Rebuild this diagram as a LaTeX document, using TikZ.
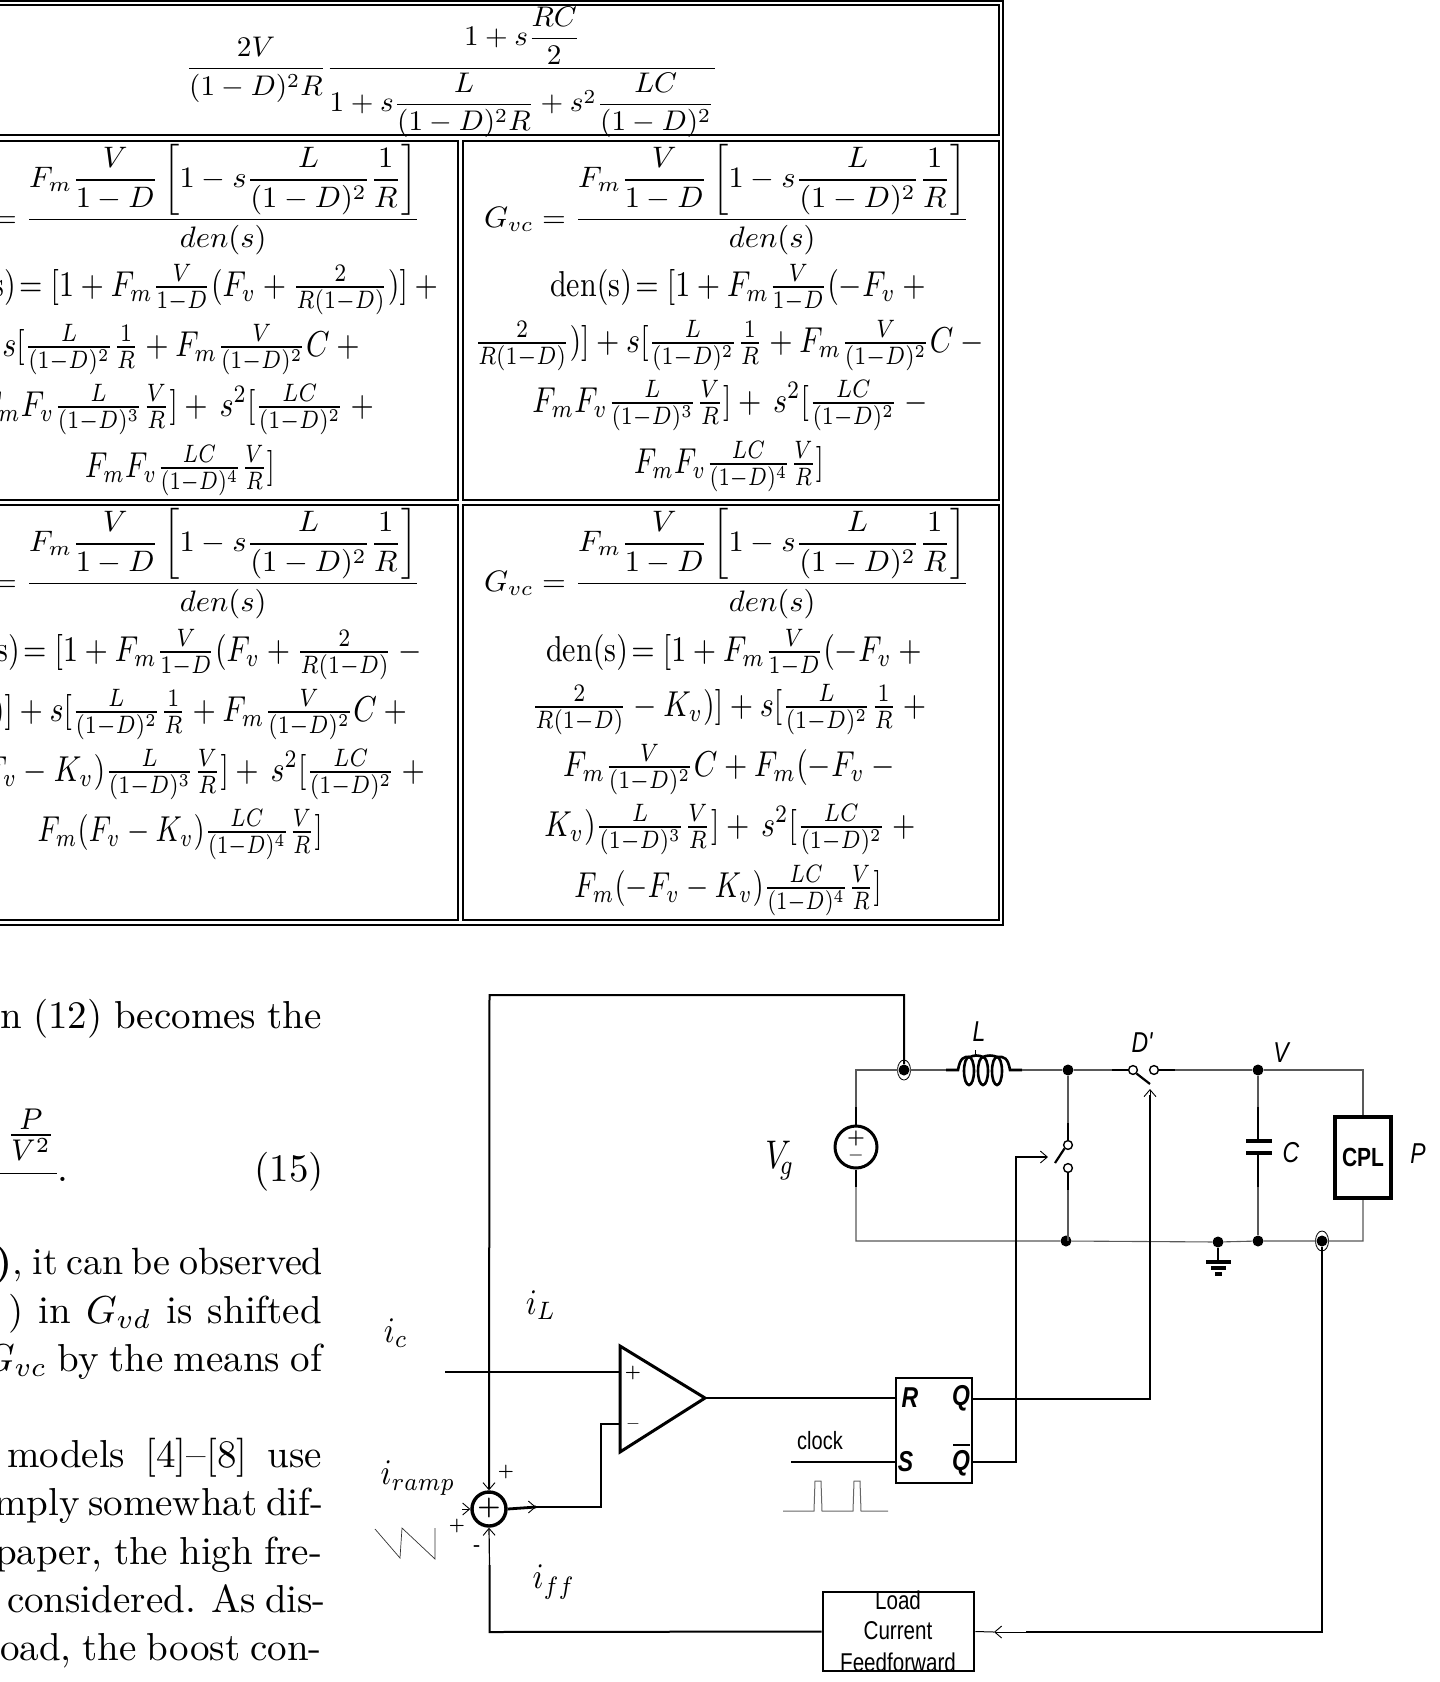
\documentclass[tikz,border=0pt]{standalone}
\usepackage{amsmath}
\usepackage{fontspec}
\usetikzlibrary{arrows.meta,shapes.geometric}
\newfontfamily\arial{Liberation Sans}
\newcommand\jl[2]{\makebox[#1\dimexpr 0.2564pt\relax][s]{#2}}
\newcommand\Dq{(1-D)}
\newcommand\Nm{F_m\dfrac{V}{1-D}\left[1-s\dfrac{L}{\Dq^2}\dfrac{1}{R}\right]}
\tikzset{
  fr/.style={inner sep=0pt,outer sep=0pt,xscale=1.46,yscale=1.42},
  fh/.style={inner sep=0pt,outer sep=0pt,xscale=1.53,yscale=1.48},
  fa/.style={inner sep=0pt,outer sep=0pt,xscale=1.5,yscale=1.8},
  fb/.style={inner sep=0pt,outer sep=0pt,xscale=1.43,yscale=1.8},
  txt/.style={inner sep=0pt,outer sep=0pt,scale=1.95,anchor=base east},
  sym/.style={inner sep=0pt,outer sep=0pt,xscale=1.6,yscale=1.8,anchor=center},
  sans/.style={inner sep=0pt,outer sep=0pt,yscale=1.25,font=\arial,anchor=center},
  cell/.style={line width=1pt,draw=black},
  thin wire/.style={line width=0.55pt,draw=black!65},
  ctl/.style={line width=1pt,draw=black},
  comp/.style={line width=1.1pt,draw=black},
  jdot/.style={circle,fill=black,inner sep=0pt,minimum size=5.5pt},
  ring/.style={ellipse,draw=black,line width=0.4pt,inner sep=0pt,minimum width=6.5pt,minimum height=10pt},
  open/.style={circle,draw=black,line width=0.7pt,fill=white,inner sep=0pt,minimum size=4.4pt},
  tipline/.style={-{Straight Barb[length=3.5pt,width=6pt,line width=0.45pt]}},
}
\begin{document}
\begin{tikzpicture}[x=0.5pt,y=-0.5pt]
\path[use as bounding box,fill=white] (0,0) rectangle (1440,1682);
% ---------- table ----------
\draw[cell] (-5,5) rectangle (999,135);
\draw[cell] (-5,141) rectangle (458,500);
\draw[cell] (463,141) rectangle (999,500);
\draw[cell] (-5,505) rectangle (458,920);
\draw[cell] (463,505) rectangle (999,920);
\draw[cell] (-5,1) -- (1003,1) -- (1003,925) -- (-5,925);
\draw[cell] (460,0) -- (460,2);
% row 1
\node[fr,anchor=base] (ra) at (452,76) {$\dfrac{2V}{\Dq^2R}\dfrac{1+s\dfrac{RC}{2}}{1+s\dfrac{L}{\Dq^2R}+s^2\dfrac{LC}{\Dq^2}}$};
% row 2 left
\node[fh,anchor=base east] (bla) at (421,227) {$=\dfrac{\Nm}{den(s)}$};
\node[fa,anchor=base east] (blb) at (438,296) {$\mathrm{s)\!=}\;[1+F_m\frac{V}{1-D}(F_v+\frac{2}{R(1-D)})]\:+$};
\node[fa,anchor=base] (blc) at (181,356) {$s[\frac{L}{\Dq^2}\frac{1}{R}+F_m\frac{V}{\Dq^2}C\:+$};
\node[fa,anchor=base east] (bld) at (374,416) {$F_mF_v\frac{L}{\Dq^3}\frac{V}{R}]+\,s^2[\frac{LC}{\Dq^2}\:+$};
\node[fb,anchor=base] (ble) at (180,477) {$F_mF_v\frac{LC}{\Dq^4}\frac{V}{R}]$};
% row 2 right
\node[fh,anchor=base east] (bra) at (970,227) {$G_{vc}=\dfrac{\Nm}{den(s)}$};
\node[fa,anchor=base] (brb) at (738,296) {$\mathrm{den(s)\!=}\;[1+F_m\frac{V}{1-D}(-F_v\:+$};
\node[fa,anchor=base] (brc) at (729,352) {$\frac{2}{R(1-D)})]+s[\frac{L}{\Dq^2}\frac{1}{R}+F_m\frac{V}{\Dq^2}C\:-$};
\node[fa,anchor=base] (brd) at (730,412) {$F_mF_v\frac{L}{\Dq^3}\frac{V}{R}]+\,s^2[\frac{LC}{\Dq^2}\:-$};
\node[fb,anchor=base] (bre) at (729,473) {$F_mF_v\frac{LC}{\Dq^4}\frac{V}{R}]$};
% row 3 left
\node[fh,anchor=base east] (cla) at (421,591) {$=\dfrac{\Nm}{den(s)}$};
\node[fa,anchor=base east] (clb) at (422,661) {$\mathrm{(s)\!=}\;[1+F_m\frac{V}{1-D}(F_v+\frac{2}{R(1-D)}\:-$};
\node[fa,anchor=base east] (clc) at (407,721) {$)]+s[\frac{L}{\Dq^2}\frac{1}{R}+F_m\frac{V}{\Dq^2}C\:+$};
\node[fa,anchor=base east] (cld) at (425,781) {$F_v-K_v)\frac{L}{\Dq^3}\frac{V}{R}]+\,s^2[\frac{LC}{\Dq^2}\:+$};
\node[fb,anchor=base] (cle) at (180,841) {$F_m(F_v-K_v)\frac{LC}{\Dq^4}\frac{V}{R}]$};
% row 3 right
\node[fh,anchor=base east] (cra) at (970,591) {$G_{vc}=\dfrac{\Nm}{den(s)}$};
\node[fa,anchor=base] (crb) at (734,661) {$\mathrm{den(s)\!=}\;[1+F_m\frac{V}{1-D}(-F_v\:+$};
\node[fa,anchor=base] (crc) at (729,716) {$\frac{2}{R(1-D)}-K_v)]+s[\frac{L}{\Dq^2}\frac{1}{R}\:+$};
\node[fa,anchor=base] (crd) at (729,776) {$F_m\frac{V}{\Dq^2}C+F_m(-F_v\:-$};
\node[fa,anchor=base] (cre) at (730,836) {$K_v)\frac{L}{\Dq^3}\frac{V}{R}]+\,s^2[\frac{LC}{\Dq^2}\:+$};
\node[fb,anchor=base] (crf) at (728,897) {$F_m(-F_v-K_v)\frac{LC}{\Dq^4}\frac{V}{R}]$};
% ---------- running text ----------
\node[txt] (ta) at (322,1028) {\jl{322}{n (12) becomes the}};
\node[txt] (tb) at (324,1181) {(15)};
\node[inner sep=0pt,scale=1.95,yscale=1.1,anchor=base] (tc) at (31,1146) {$\frac{P}{V^2}$};
\coordinate (barL) at (0,1173);
\coordinate (barR) at (57,1173);
\draw[line width=0.5pt] (barL) -- (barR);
\node[txt] (td) at (68,1181) {.};
\node[txt,scale=0.974] (te) at (322,1274) {\jl{335}{\textbf{)}, it can be observed}};
\node[txt] (tf) at (322,1323) {\jl{314}{) in $G_{vd}$ is shifted}};
\node[txt] (tg) at (322,1371) {\jl{338}{$G_{vc}$ by the means of}};
\node[txt] (th) at (322,1467) {\jl{315}{models [4]--[8] use}};
\node[txt] (ti) at (322,1515) {\jl{328}{mply somewhat dif-}};
\node[txt] (tj) at (322,1564) {\jl{327}{paper, the high fre-}};
\node[txt] (tk) at (322,1612) {\jl{315}{considered. As dis-}};
\node[txt] (tl) at (322,1660) {\jl{322}{oad, the boost con-}};
% ---------- power stage ----------
\coordinate (pTL) at (856,1070);
\coordinate (pBL) at (856,1241);
\coordinate (pTR) at (1363,1070);
\coordinate (pBR) at (1363,1241);
\node[jdot] (jS) at (904,1070) {};
\node[ring] (rS) at (904,1070) {};
\node[jdot] (jA) at (1068,1070) {};
\node[jdot] (jB) at (1066,1241) {};
\node[jdot] (jV) at (1258,1070) {};
\node[jdot] (jC) at (1258,1241) {};
\node[jdot] (jG) at (1218,1242) {};
\node[jdot] (jL) at (1322,1241) {};
\node[ring] (rL) at (1322,1241) {};
% source
\coordinate (srcT) at (856,1107);
\coordinate (srcB) at (856,1187);
\node[circle,draw=black,line width=1.5pt,inner sep=0pt,minimum size=21pt,fill=white] (src) at (856,1147) {};
\node[inner sep=0pt,font=\bfseries] (srcP) at (856,1138) {+};
\node[inner sep=0pt,font=\bfseries] (srcM) at (856,1155) {$-$};
\draw[thin wire] (srcT) -- (pTL) -- (jS) -- (946,1070);
\draw[thin wire] (srcB) -- (pBL) -- (jB) -- (jG) -- (jC) -- (jL) -- (pBR) -- (1363,1198);
\draw[comp] (srcT) -- (src.north);
\draw[comp] (src.south) -- (srcB);
% inductor
\coordinate (indL) at (946,1070);
\coordinate (indR) at (1022,1070);
\draw[line width=1.3pt] (indL) -- (958,1070) .. controls (960,1058) and (964,1056) .. (970,1057)
  .. controls (974,1055) and (979,1055) .. (983,1057)
  .. controls (987,1055) and (993,1055) .. (997,1057)
  .. controls (1004,1056) and (1008,1058) .. (1010,1070) -- (indR);
\draw[line width=1.3pt] (969,1071) ellipse [x radius=2.5pt,y radius=7pt];
\draw[line width=1.3pt] (983,1071) ellipse [x radius=2.5pt,y radius=7pt];
\draw[line width=1.3pt] (997,1071) ellipse [x radius=2.5pt,y radius=7pt];
\draw[line width=0.3pt] (975.5,1050) -- (975.5,1056);
\draw[thin wire] (indR) -- (jA);
% shunt switch
\node[open] (swU) at (1068,1145) {};
\node[open] (swD) at (1068,1168) {};
\coordinate (swT) at (1068,1123);
\coordinate (swB) at (1068,1190);
\draw[thin wire] (jA) -- (swT);
\draw[thin wire] (swB) -- (1068,1241);
\draw[comp] (swT) -- (swU.north);
\draw[comp] (swD.south) -- (swB);
\draw[comp] (1055,1163) -- (swU.south west);
% series switch
\node[open] (dL) at (1133,1070) {};
\node[open] (dR) at (1154,1070) {};
\coordinate (dA) at (1112,1070);
\coordinate (dB) at (1175,1070);
\draw[thin wire] (jA) -- (dA);
\draw[comp] (dA) -- (dL.west);
\draw[comp] (dR.east) -- (dB);
\draw[thin wire] (dB) -- (jV) -- (pTR) -- (1363,1117);
\draw[comp] (dL.south east) -- (1150,1084);
% capacitor
\coordinate (cT) at (1258,1107);
\coordinate (cB) at (1258,1187);
\coordinate (cP) at (1258,1141);
\coordinate (cN) at (1258,1153);
\draw[thin wire] (jV) -- (cT);
\draw[thin wire] (cB) -- (jC);
\draw[comp] (cT) -- (cP);
\draw[comp] (cN) -- (cB);
\draw[line width=1.6pt] (1246,1141) -- (1272,1141);
\draw[line width=1.6pt] (1246,1153) -- (1272,1153);
% ground
\draw[comp] (jG) -- (1218,1262);
\draw[line width=1.7pt] (1206,1262) -- (1231,1262);
\draw[line width=1.7pt] (1211,1268) -- (1226,1268);
\draw[line width=1.7pt] (1215,1274) -- (1222,1274);
% CPL
\node[draw=black,line width=1.7pt,minimum width=28pt,minimum height=40.5pt,inner sep=0pt,fill=white] (cpl) at (1363,1157.5) {};
\node[sans,font=\arial\bfseries,scale=1.05] (cplT) at (1363,1157) {CPL};
% circuit labels
\node[inner sep=0pt,xscale=1.6,yscale=2,anchor=center] (lVg) at (780,1161) {$V_{\!g}$};
\node[sans,font=\arial\itshape,scale=1.15] (lL) at (979,1032) {L};
\node[sans,font=\arial\itshape,scale=1.15] (lD) at (1142,1043) {D'};
\node[sans,font=\arial\itshape,scale=1.15] (lV) at (1281,1053) {V};
\node[sans,font=\arial\itshape,scale=1.15] (lC) at (1291,1153) {C};
\node[sans,font=\arial\itshape,scale=1.15] (lP) at (1418,1154) {P};
% ---------- control ----------
\node[circle,draw=black,line width=1.7pt,inner sep=0pt,minimum size=17pt,fill=white] (sum) at (489,1509) {};
\node[inner sep=0pt,font=\bfseries,scale=1.3] (sumP) at (489,1508) {+};
\coordinate (fbC) at (489.5,995);
\coordinate (fbR) at (904,995);
\draw[ctl,tipline] (jS.north) -- (fbR) -- (fbC) -- (sum.north);
\coordinate (icS) at (445,1372);
\coordinate (opA) at (620,1346);
\coordinate (opB) at (620,1452);
\coordinate (opC) at (705,1398);
\coordinate (opP) at (620,1372);
\coordinate (opM) at (620,1424);
\draw[line width=1.5pt,line join=miter] (opA) -- (opB) -- (opC) -- cycle;
\node[inner sep=0pt,font=\bfseries,scale=0.9] (opPl) at (633,1373) {+};
\node[inner sep=0pt,font=\bfseries,scale=0.9] (opMi) at (633,1424) {$-$};
\draw[ctl] (icS) -- (opP);
\coordinate (sumMid) at (536,1507);
\coordinate (sumK) at (601,1507);
\draw[line width=1.4pt] (sum.east) -- (sumMid);
\draw[tipline,line width=0.45pt] (520,1507) -- (sumMid);
\draw[ctl] (sumMid) -- (sumK) -- (601,1424) -- (opM);
\coordinate (sumIn) at (462,1509);
\draw[tipline,line width=0.45pt] (sumIn) -- (sum.west);
% RS
\node[draw=black,line width=1.3pt,minimum width=38pt,minimum height=52.5pt,inner sep=0pt] (rs) at (934,1430.5) {};
\node[sans,font=\arial\bfseries\itshape,scale=1.15] (rsR) at (910,1398) {R};
\node[sans,font=\arial\bfseries\itshape,scale=1.15] (rsQ) at (961,1398) {Q};
\node[sans,font=\arial\bfseries\itshape,scale=1.15] (rsS) at (905.5,1462) {S};
\node[sans,font=\arial\bfseries\itshape,scale=1.15] (rsN) at (961,1463) {Q};
\draw[line width=0.7pt] (953,1445) -- (970,1445);
\coordinate (rsRin) at (896,1398);
\coordinate (rsSin) at (896,1462);
\coordinate (rsQo) at (972,1399);
\coordinate (rsNo) at (972,1462);
\coordinate (clkS) at (791,1462);
\draw[ctl] (opC) -- (rsRin);
\draw[ctl] (clkS) -- (rsSin);
\node[sans,scale=1] (clk) at (820,1441) {clock};
\draw[line width=0.5pt,black!60] (783,1511) -- (814,1511) -- (815,1481) -- (821,1481) -- (822,1511) -- (853,1511) -- (854,1481) -- (860,1481) -- (861,1511) -- (888,1511);
% drive wires
\coordinate (qCorner) at (1150,1399);
\coordinate (dArrow) at (1150,1089);
\coordinate (nCorner) at (1016,1462);
\coordinate (nTop) at (1016,1157);
\coordinate (nTip) at (1048,1157);
\draw[ctl] (rsQo) -- (qCorner) -- (1150,1095);
\draw[tipline,line width=0.45pt] (1150,1100) -- (dArrow);
\draw[ctl] (rsNo) -- (nCorner) -- (nTop) -- (1030,1157);
\draw[tipline,line width=0.55pt] (1030,1157) -- (nTip);
% load current
\node[draw=black,line width=1.4pt,minimum width=75.5pt,minimum height=39.5pt,inner sep=0pt] (load) at (898.5,1631.5) {};
\node[sans,scale=1.03] (ldA) at (898,1600) {Load};
\node[sans,scale=1.03] (ldB) at (898,1631) {Current};
\node[sans,scale=1.03] (ldC) at (898,1662) {Feedforward};
\coordinate (lsK) at (1322,1632);
\coordinate (lsMid) at (994,1632);
\draw[ctl] (jL) -- (lsK) -- (1026,1632);
\draw[line width=0.5pt,tipline] (1026,1632) -- (lsMid);
\draw[line width=0.5pt] (lsMid) -- (load.east);
\coordinate (ffC) at (489.5,1632);
\draw[ctl] (load.west) -- (ffC) -- (489.5,1565);
\draw[tipline,line width=0.6pt] (489.5,1565) -- (sum.south);
% sawtooth
\draw[line width=0.35pt,black!80] (375,1529) -- (400,1558) -- (402,1528) -- (435,1559) -- (435,1528);
% signs & signal labels
\node[inner sep=0pt,font=\bfseries,scale=0.9] (pa) at (506,1472) {+};
\node[inner sep=0pt,font=\bfseries,scale=0.9] (pb) at (457,1526) {+};
\node[inner sep=0pt,font=\bfseries,scale=0.9] (pc) at (477,1548) {-};
\node[sym] (lic) at (396,1333) {$i_c$};
\node[sym] (liL) at (541,1305) {$i_L$};
\node[sym] (lir) at (418,1478) {$i_{ramp}$};
\node[sym] (lif) at (554,1582) {$i_{ff}$};
\end{tikzpicture}
\end{document}
